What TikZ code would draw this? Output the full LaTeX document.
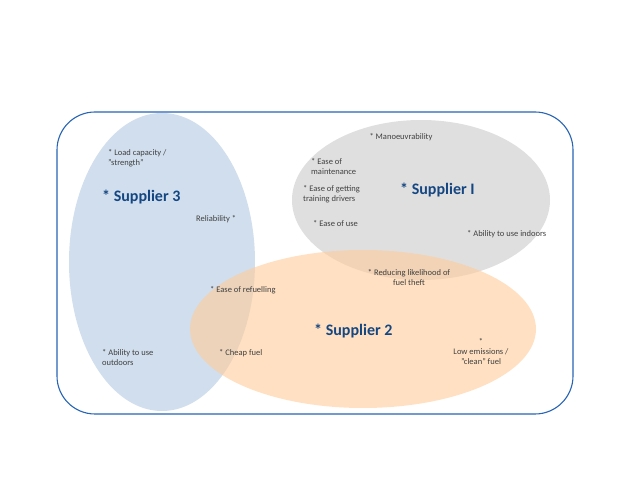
\documentclass[tikz,border=0pt]{standalone}
\usepackage{fontspec}
\setmainfont{Carlito}
\definecolor{frame}{RGB}{40,100,180}
\definecolor{supc}{RGB}{20,70,130}
\definecolor{bl}{RGB}{170,195,222}
\begin{document}
\begin{tikzpicture}[x=1pt,y=-1pt,
  lbl/.style={font=\fontsize{8.5}{10}\selectfont,text=black!75,inner sep=0pt,align=left},
  sup/.style={font=\bfseries\fontsize{16}{18}\selectfont,text=supc,inner sep=0pt,anchor=west}]
\useasboundingbox (0,0) rectangle (638,478);
\fill[bl,opacity=0.55] (162,262) ellipse [x radius=93,y radius=149];
\fill[gray!35,opacity=0.7] (421,200) ellipse [x radius=129,y radius=80];
\fill[orange!40,opacity=0.6] (363,329) ellipse [x radius=173,y radius=79];
\draw[line width=1.1pt,draw=frame,rounded corners=38pt] (57,112) rectangle (573,414);
\node[lbl,anchor=center] (m) at (401,137) {* Manoeuvrability};
\node[lbl,anchor=west] (em) at (311,167) {* Ease of\\maintenance};
\node[lbl,anchor=west] (eg) at (303,194) {* Ease of getting\\training drivers};
\node[lbl,anchor=west] (eu) at (313,224) {* Ease of use};
\node[sup] (s1) at (400,190) {* Supplier I};
\node[lbl,anchor=west] (ai) at (467,234) {* Ability to use indoors};
\node[lbl,align=center,anchor=center] (rl) at (409,278) {* Reducing likelihood of\\fuel theft};
\node[lbl,anchor=west] (lc) at (108,158) {* Load capacity /\\"strength"};
\node[sup] (s3) at (102,197) {* Supplier 3};
\node[lbl,anchor=west] (re) at (196,219) {Reliability *};
\node[lbl,anchor=west] (er) at (210,290) {* Ease of refuelling};
\node[sup] (s2) at (314,331) {* Supplier 2};
\node[lbl,anchor=west] (ao) at (102,358) {* Ability to use\\outdoors};
\node[lbl,anchor=west] (cf) at (219,353) {* Cheap fuel};
\node[lbl,align=center,anchor=center] (le) at (481,352) {*\\Low emissions /\\"clean" fuel};
\end{tikzpicture}
\end{document}
